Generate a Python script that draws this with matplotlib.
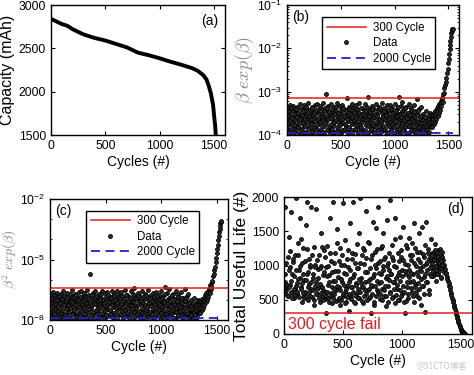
import numpy as np
import matplotlib
matplotlib.use("Agg")
import matplotlib.pyplot as plt
from matplotlib.lines import Line2D
from matplotlib.ticker import LogLocator, NullFormatter

plt.rcParams.update({
    "font.family": ["Liberation Sans", "DejaVu Sans"],
    "font.size": 8.7,
    "mathtext.fontset": "custom",
    "mathtext.rm": "Liberation Sans",
    "mathtext.it": "Liberation Sans:italic",
    "mathtext.bf": "Liberation Sans:bold",
    "axes.linewidth": 1.0,
    "xtick.direction": "in",
    "ytick.direction": "in",
    "xtick.top": True,
    "ytick.right": True,
    "xtick.labelsize": 8.7,
    "ytick.labelsize": 8.7,
    "xtick.major.size": 3,
    "ytick.major.size": 3,
    "xtick.minor.size": 1.6,
    "ytick.minor.size": 1.6,
})

RED = "#e41c1c"
BLUE = "#1e22d4"

# ---- (a) capacity fade ----
cap_cycle = [0, 50, 100, 150, 200, 250, 300, 400, 500, 600, 700, 800, 900, 1000,
             1100, 1200, 1300, 1350, 1400, 1430, 1450, 1470, 1490, 1500, 1510, 1515]
cap_mah = [2840, 2810, 2780, 2760, 2720, 2690, 2660, 2620, 2590, 2550, 2510, 2450,
           2420, 2385, 2345, 2310, 2270, 2240, 2190, 2140, 2070, 1980, 1850, 1720,
           1600, 1500]

# ---- noisy region: two interleaved point sets, every 6 cycles ----
noise_cycle = np.arange(0, 1350, 6)
noise_cycle2 = np.arange(3, 1350, 6)

# beta*exp(beta), units of 1e-4
b_noise = [
    2.3, 4.1, 1.3, 3.2, 1.8, 5.0, 2.6, 1.1, 3.8, 2.0, 4.6, 1.5, 2.9, 1.2, 3.5,
    1.7, 4.4, 2.2, 1.0, 3.0, 5.3, 1.4, 2.5, 3.9, 1.2, 2.1, 4.8, 1.6, 3.3, 2.7,
    1.1, 4.0, 2.4, 5.5, 1.5, 3.1, 1.9, 2.8, 4.5, 1.3, 3.6, 2.0, 1.0, 4.9, 2.6,
    1.4, 3.4, 5.1, 2.2, 1.2, 3.9, 1.8, 4.3, 2.5, 1.1, 3.0, 5.6, 1.6, 2.3, 4.1,
    9.0, 2.0, 3.5, 1.3, 4.7, 2.8, 1.5, 3.2, 5.2, 1.0, 2.4, 3.8, 1.7, 4.4, 2.1,
    1.2, 3.6, 2.7, 5.4, 1.4, 3.0, 2.2, 4.6, 1.1, 3.3, 1.9, 5.0, 2.5, 1.3, 4.0,
    2.9, 1.6, 3.7, 7.0, 2.1, 1.2, 4.5, 2.6, 1.0, 3.4, 5.3, 1.8, 2.4, 4.2, 1.3,
    3.1, 2.0, 4.9, 1.5, 3.6, 1.1, 2.7, 5.5, 1.9, 3.0, 1.4, 4.3, 2.3, 1.2, 3.8,
    2.5, 5.1, 1.7, 3.3, 1.0, 2.8, 7.5, 4.0, 1.6, 2.2, 3.5, 1.3, 4.7, 2.9, 1.5,
    3.9, 1.2, 2.6, 5.2, 1.8, 3.1, 1.1, 4.4, 2.3, 1.4, 3.7, 2.0, 5.6, 1.6, 2.8,
    1.3, 4.1, 2.4, 1.0, 3.4, 4.8, 1.7, 2.9, 1.2, 5.0, 2.1, 3.6, 1.5, 4.3, 2.6,
    1.1, 3.2, 5.3, 1.9, 2.5, 4.0, 1.4, 3.0, 7.4, 1.2, 2.2, 4.6, 1.6, 3.5, 5.8,
    2.0, 1.3, 3.8, 2.7, 1.0, 4.5, 2.3, 1.6, 3.3, 5.1, 1.2, 2.8, 4.2, 1.8, 3.0,
    1.4, 2.4, 4.9, 1.1, 3.6, 2.1, 1.5, 6.8, 2.9, 1.3, 3.9, 2.0, 4.4, 1.2, 2.6,
    1.5, 3.1, 1.2, 2.3, 1.8, 3.5, 1.4, 2.0, 1.1, 2.7, 1.6, 3.2, 1.9, 2.4, 2.8,
]
b_noise2 = [
    1.6, 2.8, 1.2, 3.6, 2.1, 1.4, 4.3, 1.9, 2.5, 1.1, 3.1, 1.7, 2.2, 3.9, 1.3,
    2.6, 1.5, 3.3, 1.8, 1.1, 2.4, 4.0, 1.3, 2.9, 1.9, 3.5, 1.2, 2.3, 1.6, 4.5,
    2.0, 3.0, 1.4, 2.7, 1.0, 3.7, 1.8, 2.3, 1.2, 4.1, 2.9, 1.5, 3.2, 2.1, 1.3,
    3.8, 1.7, 2.4, 1.1, 3.0, 2.0, 4.6, 1.4, 3.3, 2.6, 1.2, 2.2, 3.6, 1.9, 1.0,
    2.7, 1.3, 4.2, 2.3, 1.6, 3.4, 1.1, 2.5, 1.8, 3.9, 1.4, 2.9, 2.0, 1.2, 3.1,
    2.2, 4.4, 1.5, 2.0, 3.2, 1.1, 2.6, 1.7, 3.7, 1.3, 2.4, 1.9, 4.1, 2.8, 1.4,
    1.8, 3.5, 2.3, 1.2, 2.9, 4.0, 1.5, 3.1, 2.0, 1.3, 2.6, 3.8, 1.0, 2.2, 3.4,
    1.4, 2.5, 1.7, 3.9, 2.1, 1.2, 3.3, 1.8, 2.7, 4.3, 1.5, 2.0, 3.0, 1.1, 2.4,
    3.6, 1.3, 2.2, 1.9, 4.5, 1.6, 2.8, 1.2, 3.4, 2.0, 1.4, 3.9, 2.3, 1.7, 2.6,
    1.1, 3.0, 2.0, 1.5, 2.7, 3.8, 1.3, 2.4, 4.2, 1.8, 2.1, 1.2, 3.2, 2.6, 1.6,
    3.5, 2.2, 1.4, 2.9, 1.9, 1.1, 3.7, 2.5, 1.6, 2.0, 4.0, 1.3, 2.7, 1.8, 3.3,
    2.4, 1.5, 2.1, 3.6, 1.2, 2.8, 1.8, 4.4, 1.4, 2.3, 3.1, 1.0, 2.6, 1.9, 1.3,
    3.0, 2.2, 1.5, 4.1, 1.8, 2.5, 1.1, 3.3, 2.0, 1.6, 2.9, 3.8, 1.3, 2.4, 1.7,
    2.1, 3.4, 1.3, 2.6, 1.8, 1.2, 2.9, 2.0, 3.5, 1.5, 2.3, 1.1, 2.7, 1.9, 1.4,
    2.2, 1.3, 1.9, 1.1, 2.6, 1.6, 2.1, 1.3, 1.8, 2.4, 1.2, 2.0, 1.5, 2.9, 2.3,
]

# beta^2*exp(beta), units of 1e-8
c_noise = [
    5.3, 17, 1.7, 10, 3.2, 25, 6.8, 1.2, 14, 4.0, 21, 2.3, 8.4, 1.4, 12,
    2.9, 19, 4.8, 1.0, 9.0, 28, 2.0, 6.3, 15, 1.4, 4.4, 23, 2.6, 11, 7.3,
    1.2, 16, 5.8, 30, 2.3, 9.6, 3.6, 7.8, 20, 1.7, 13, 4.0, 1.0, 24, 6.8,
    2.0, 12, 26, 4.8, 1.4, 15, 3.2, 18, 6.3, 1.2, 9.0, 31, 2.6, 5.3, 17,
    200, 4.0, 12, 1.7, 22, 7.8, 2.3, 10, 27, 1.0, 5.8, 14, 2.9, 19, 4.4,
    1.4, 13, 7.3, 29, 2.0, 9.0, 4.8, 21, 1.2, 11, 3.6, 25, 6.3, 1.7, 16,
    8.4, 2.6, 14, 28, 4.4, 1.4, 20, 6.8, 1.0, 12, 28, 3.2, 5.8, 18, 1.7,
    9.6, 4.0, 24, 2.3, 13, 1.2, 7.3, 30, 3.6, 9.0, 2.0, 18, 5.3, 1.4, 14,
    6.3, 26, 2.9, 11, 1.0, 7.8, 40, 16, 2.6, 4.8, 12, 1.7, 22, 8.4, 2.3,
    15, 1.4, 6.8, 27, 3.2, 9.6, 1.2, 19, 5.3, 2.0, 14, 4.0, 31, 2.6, 7.8,
    1.7, 17, 5.8, 1.0, 12, 23, 2.9, 8.4, 1.4, 25, 4.4, 13, 2.3, 18, 6.8,
    1.2, 10, 28, 3.6, 6.3, 16, 2.0, 9.0, 45, 1.4, 4.8, 21, 2.6, 12, 34,
    4.0, 1.7, 14, 7.3, 1.0, 20, 5.3, 2.6, 11, 26, 1.4, 7.8, 18, 3.2, 9.0,
    2.0, 5.8, 24, 1.2, 13, 4.4, 2.3, 36, 8.4, 1.7, 15, 4.0, 19, 1.4, 6.8,
    2.3, 9.6, 1.4, 5.3, 3.2, 12, 2.0, 4.0, 1.2, 7.3, 2.6, 10, 3.6, 5.8, 7.8,
]
c_noise2 = [
    2.6, 7.8, 1.4, 13, 4.4, 2.0, 18, 3.6, 6.3, 1.2, 9.6, 2.9, 4.8, 15, 1.7,
    6.8, 2.3, 11, 3.2, 1.2, 5.8, 16, 1.7, 8.4, 3.6, 12, 1.4, 5.3, 2.6, 20,
    4.0, 9.0, 2.0, 7.3, 1.0, 14, 3.2, 5.3, 1.4, 17, 8.4, 2.3, 10, 4.4, 1.7,
    14, 2.9, 5.8, 1.2, 9.0, 4.0, 21, 2.0, 11, 6.8, 1.4, 4.8, 13, 3.6, 1.0,
    7.3, 1.7, 18, 5.3, 2.6, 12, 1.2, 6.3, 3.2, 15, 2.0, 8.4, 4.0, 1.4, 9.6,
    4.8, 19, 2.3, 4.0, 10, 1.2, 6.8, 2.9, 14, 1.7, 5.8, 3.6, 17, 7.8, 2.0,
    3.2, 12, 5.3, 1.4, 8.4, 16, 2.3, 9.6, 4.0, 1.7, 6.8, 14, 1.0, 4.8, 12,
    2.0, 6.3, 2.9, 15, 4.4, 1.4, 11, 3.2, 7.3, 18, 2.3, 4.0, 9.0, 1.2, 5.8,
    13, 1.7, 4.8, 3.6, 20, 2.6, 7.8, 1.4, 12, 4.0, 2.0, 15, 5.3, 2.9, 6.8,
    1.2, 9.0, 4.0, 2.3, 7.3, 14, 1.7, 5.8, 18, 3.2, 4.4, 1.4, 10, 6.8, 2.6,
    12, 4.8, 2.0, 8.4, 3.6, 1.2, 14, 6.3, 2.6, 4.0, 16, 1.7, 7.3, 3.2, 11,
    5.8, 2.3, 4.4, 13, 1.4, 7.8, 3.2, 19, 2.0, 5.3, 9.6, 1.0, 6.8, 3.6, 1.7,
    9.0, 4.8, 2.3, 17, 3.2, 6.3, 1.2, 11, 4.0, 2.6, 8.4, 14, 1.7, 5.8, 2.9,
    4.4, 12, 1.7, 6.8, 3.2, 1.4, 8.4, 4.0, 12, 2.3, 5.3, 1.2, 7.3, 3.6, 2.0,
    4.8, 1.7, 3.6, 1.2, 6.8, 2.6, 4.4, 1.7, 3.2, 5.8, 1.4, 4.0, 2.3, 8.4, 5.3,
]

# total useful life (#)
d_noise = [
    700, 760, 1850, 640, 690, 1120, 560, 1420, 980, 710, 1780, 600, 880, 1050, 520,
    1160, 650, 1980, 740, 580, 1330, 930, 820, 1700, 690, 470, 1040, 1250, 560, 790,
    610, 1590, 870, 1930, 500, 730, 1100, 980, 650, 1860, 540, 820, 1270, 430, 1010,
    760, 1830, 590, 950, 690, 1150, 470, 1000, 1470, 560, 860, 640, 1220, 510, 980,
    300, 1290, 710, 520, 860, 1690, 600, 1060, 450, 780, 1930, 590, 920, 1180, 640,
    1540, 500, 830, 690, 1250, 420, 1010, 760, 1910, 560, 890, 1370, 620, 470, 1100,
    700, 980, 330, 1620, 810, 560, 1180, 690, 1920, 880, 450, 1040, 740, 1310, 600,
    960, 1480, 530, 1990, 820, 690, 1150, 450, 1020, 1230, 760, 580, 1800, 900, 640,
    1330, 520, 800, 300, 1090, 700, 1640, 870, 430, 1190, 960, 1550, 640, 1030, 1860,
    740, 510, 1250, 880, 660, 1480, 990, 560, 1120, 410, 820, 1660, 700, 1040, 930,
    1950, 620, 870, 1300, 540, 1080, 760, 450, 1690, 980, 650, 1180, 860, 500, 1420,
    780, 1120, 590, 930, 1560, 460, 1020, 300, 870, 1250, 680, 520, 1400, 940, 760,
    1080, 610, 1330, 880, 470, 1620, 730, 990, 560, 1200, 840, 1480, 650, 1050, 420,
    920, 1560, 700, 1130, 830, 320, 1020, 1640, 760, 1240, 590, 1090, 880, 1380, 1000,
    1180, 840, 1090, 960, 1320, 780, 1130, 1010, 880, 1220, 950, 1060, 820, 1150, 980,
]
d_noise2 = [
    640, 870, 590, 1030, 720, 560, 940, 680, 1210, 610, 780, 530, 1090, 660, 850,
    570, 930, 700, 620, 1150, 810, 540, 990, 650, 1380, 740, 600, 880, 520, 1060,
    790, 560, 1240, 680, 900, 610, 1010, 550, 760, 1160, 640, 870, 500, 980, 700,
    590, 1080, 660, 820, 520, 960, 730, 600, 1270, 680, 490, 900, 620, 1120, 560,
    840, 610, 990, 470, 760, 1180, 560, 690, 900, 520, 1040, 650, 780, 480, 1330,
    700, 920, 530, 1060, 640, 800, 490, 1150, 590, 720, 1010, 450, 870, 660, 540,
    1220, 580, 760, 940, 510, 680, 1090, 620, 830, 470, 1170, 720, 560, 960, 650,
    520, 800, 1030, 610, 740, 480, 1260, 690, 560, 900, 640, 1110, 500, 770, 1340,
    650, 960, 540, 720, 1150, 590, 830, 470, 1010, 700, 560, 1240, 780, 620, 890,
    1060, 580, 760, 1290, 490, 930, 640, 1100, 700, 550, 850, 1000, 460, 790, 1180,
    600, 880, 1120, 530, 760, 990, 660, 1380, 570, 820, 710, 490, 1060, 900, 640,
    1230, 560, 850, 700, 1080, 610, 920, 480, 1300, 760, 1010, 590, 830, 1160, 670,
    890, 1150, 560, 780, 1040, 690, 1250, 610, 900, 1100, 740, 520, 960, 1200, 800,
    700, 1000, 1170, 590, 880, 1300, 760, 1050, 930, 1180, 640, 970, 1120, 850, 1060,
    1040, 920, 1200, 870, 1080, 990, 1160, 900, 1030, 1110, 960, 1240, 1050, 1130, 1190,
]

# knee / end of life
tail_cycle = [1350, 1356, 1362, 1368, 1374, 1380, 1386, 1392, 1398, 1404, 1410, 1416,
              1422, 1428, 1434, 1440, 1446, 1452, 1458, 1464, 1470, 1476, 1482, 1488,
              1494, 1500, 1504, 1508, 1512, 1516, 1520, 1524, 1528, 1532, 1536, 1540,
              1352, 1364, 1376, 1388, 1400, 1412, 1424, 1436, 1448]
b_tail = [2.0, 2.9, 2.4, 3.3, 2.7, 3.6, 3.0, 4.1, 3.5, 4.6, 4.0, 5.2,
          4.8, 6.0, 5.6, 7.2, 7.0, 8.8, 9.5, 12, 14, 17, 21, 27,
          34, 45, 58, 74, 95, 120, 150, 185, 220, 250, 275, 285,
          1.5, 1.8, 2.0, 2.3, 2.8, 3.2, 3.8, 4.6, 5.8]
c_tail = [4.0, 8.4, 5.8, 11, 7.3, 13, 9.0, 17, 12, 21, 16, 27,
          23, 36, 31, 52, 49, 77, 90, 144, 196, 289, 441, 729,
          1156, 2025, 3364, 5476, 9025, 14400, 22500, 34225, 48400, 62500, 75625, 81225,
          2.3, 3.2, 4.0, 5.3, 7.8, 10, 14, 21, 34]

d_tail_cycle = [1350, 1355, 1360, 1365, 1370, 1375, 1380, 1385, 1390, 1395, 1400, 1405,
                1410, 1415, 1420, 1425, 1430, 1435, 1440, 1445, 1450, 1455, 1460, 1465,
                1470, 1475, 1480, 1485, 1490, 1495, 1500, 1505, 1510, 1515, 1520, 1525,
                1530, 1535, 1540,
                1262, 1275, 1288, 1296, 1305, 1312, 1320, 1328, 1336, 1344, 1300, 1318,
                1332, 1290, 1340]
d_tail = [1080, 960, 1010, 900, 950, 870, 890, 830, 800, 770, 740, 700,
          680, 640, 600, 570, 530, 500, 460, 420, 400, 360, 320, 290,
          260, 230, 200, 170, 140, 120, 100, 80, 60, 45, 35, 25,
          15, 8, 3,
          1150, 1080, 1220, 990, 1180, 1120, 1040, 1100, 960, 1010, 870, 920,
          1060, 940, 830]

limit_300 = {"b": 7.3e-4, "c": 4.0e-7, "d": 300}
limit_2000 = {"b": 1.1e-4, "c": 1.3e-8}

MK = dict(linestyle="none", marker="o", markersize=2.8, markerfacecolor="#2a2a2a",
          markeredgecolor="black", markeredgewidth=0.6)

fig = plt.figure(figsize=(4.74, 3.75), dpi=100)
W, H = 474, 375


def px_axes(l, t, r, b):
    return fig.add_axes([l / W, 1 - b / H, (r - l) / W, (b - t) / H])


ax_a = px_axes(51, 5, 225, 135)
ax_b = px_axes(287, 5, 459, 135)
ax_c = px_axes(50, 199, 228, 320)
ax_d = px_axes(284, 197, 472, 334)

# (a)
ax_a.plot(cap_cycle, cap_mah, color="black", lw=2.8, solid_capstyle="round")
ax_a.set_xlim(0, 1600)
ax_a.set_ylim(1500, 3000)
ax_a.set_xticks([0, 500, 1000, 1500])
ax_a.set_yticks([1500, 2000, 2500, 3000])
ax_a.set_xlabel("Cycles (#)", fontsize=10, labelpad=2)
ax_a.set_ylabel("Capacity (mAh)", fontsize=11.5, labelpad=2.5)
ax_a.text(0.96, 0.93, "(a)", transform=ax_a.transAxes, ha="right", va="top", fontsize=10)


def beta_panel(ax, noise, noise2, tail, scale, key, ylim, yticks, ylabel, ysize, tag):
    ax.plot(noise_cycle, np.array(noise) * scale, **MK)
    ax.plot(noise_cycle2, np.array(noise2) * scale, **MK)
    ax.plot(tail_cycle, np.array(tail) * scale, **MK)
    h1 = ax.axhline(limit_300[key], color=RED, lw=1.1)
    h3, = ax.plot([0, 1540], [limit_2000[key]] * 2, color=BLUE, lw=1.3, ls=(0, (5, 3)))
    ax.set_yscale("log")
    ax.set_xlim(0, 1600)
    ax.set_ylim(*ylim)
    ax.set_yticks(yticks)
    ax.set_xticks([0, 500, 1000, 1500])
    ax.set_xlabel("Cycle (#)", fontsize=10, labelpad=2)
    ax.set_ylabel(ylabel, fontsize=ysize, color="#8a8a8a", math_fontfamily="cm", labelpad=1)
    ax.text(0.03, 0.96, tag, transform=ax.transAxes, ha="left", va="top", fontsize=10)
    h2 = Line2D([], [], **MK)
    ax.legend([h1, h2, h3], ["300 Cycle", "Data", "2000 Cycle"], loc="upper left",
              bbox_to_anchor=(0.17, 0.95), fontsize=8.3, frameon=True, fancybox=False,
              edgecolor="black", framealpha=1, handlelength=3.4, borderpad=0.4,
              labelspacing=0.3, handletextpad=0.6).get_frame().set_linewidth(1.0)


beta_panel(ax_b, b_noise, b_noise2, b_tail, 1e-4, "b", (1e-4, 1e-1),
           [1e-4, 1e-3, 1e-2, 1e-1], r"$\beta\ exp(\beta)$", 13, "(b)")
ax_b.yaxis.set_minor_locator(LogLocator(base=10, subs=np.arange(2, 10), numticks=12))
ax_b.yaxis.set_minor_formatter(NullFormatter())

beta_panel(ax_c, c_noise, c_noise2, c_tail, 1e-8, "c", (1e-8, 1e-2),
           [1e-8, 1e-5, 1e-2], r"$\beta^2\ exp(\beta)$", 10, "(c)")
ax_c.yaxis.set_minor_locator(LogLocator(base=10, subs=(1.0,), numticks=12))
ax_c.yaxis.set_minor_formatter(NullFormatter())
# keep the (c) label inside the figure's left edge and clear of the tick labels
ax_c.yaxis.set_label_coords(-0.175, 0.5)

# (d)
ax_d.plot(noise_cycle, d_noise, **MK)
ax_d.plot(noise_cycle2, d_noise2, **MK)
ax_d.plot(d_tail_cycle, d_tail, **MK)
ax_d.axhline(limit_300["d"], color=RED, lw=1.1)
ax_d.set_xlim(0, 1600)
ax_d.set_ylim(0, 2000)
ax_d.set_xticks([0, 500, 1000, 1500])
ax_d.set_yticks([0, 500, 1000, 1500, 2000])
ax_d.set_xlabel("Cycle (#)", fontsize=10, labelpad=2)
ax_d.set_ylabel("Total Useful Life (#)", fontsize=12.5, labelpad=2)
ax_d.text(0.96, 0.96, "(d)", transform=ax_d.transAxes, ha="right", va="top", fontsize=10)
ax_d.text(30, 255, "300 cycle fail", color=RED, fontsize=11.5, ha="left", va="top")

fig.text(0.985, 0.012, "@51CTO博客", color="#c8c8c8", fontsize=6, ha="right", va="bottom",
         family=["Noto Sans CJK SC", "DejaVu Sans"])

fig.savefig("out.png", dpi=100)
